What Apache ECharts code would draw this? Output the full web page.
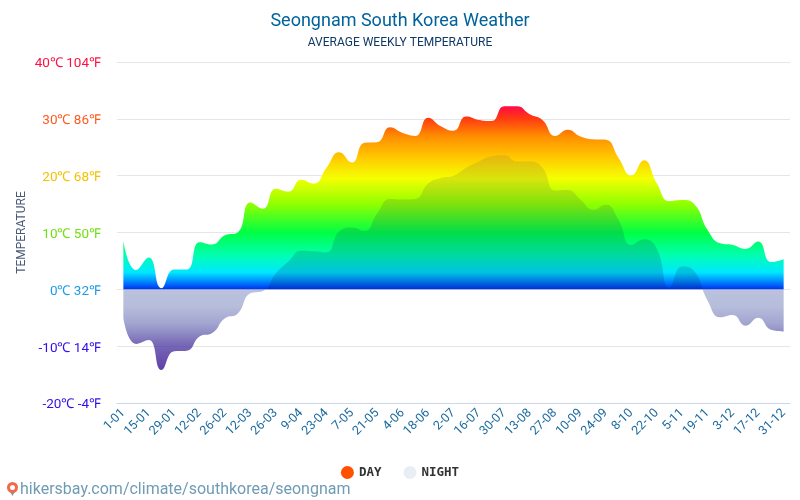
<!DOCTYPE html>
<html>
<head>
<meta charset="utf-8">
<style>html,body{margin:0;padding:0;background:#fff}#main{width:800px;height:500px}</style>
<script src="https://cdn.jsdelivr.net/npm/echarts@6/dist/echarts.min.js"></script>
</head>
<body>
<div id="main"></div>
<script>
var weeks = ['1-01','8-01','15-01','22-01','29-01','5-02','12-02','19-02','26-02','5-03','12-03','19-03','26-03','2-04','9-04','16-04','23-04','30-04','7-05','14-05','21-05','28-05','4-06','11-06','18-06','25-06','2-07','9-07','16-07','23-07','30-07','6-08','13-08','20-08','27-08','3-09','10-09','17-09','24-09','1-10','8-10','15-10','22-10','29-10','5-11','12-11','19-11','26-11','3-12','10-12','17-12','24-12','31-12'];
var day = [8.5,3.4,5.6,0.2,3.5,3.5,8.3,7.9,9.5,10,15.3,14.2,17.7,17.2,19.3,18.6,21.4,24.1,22.3,25.8,25.9,28.5,27.5,27,30.2,28.7,27.9,30.4,29.8,29.6,32.2,32.2,30.8,29.8,27,28.1,26.9,26.4,26.3,23.1,20,22.7,18.7,15.5,15.7,14.9,10.5,8.1,7.8,7.1,8.4,4.8,5.3];
var night = [-5.1,-9.6,-8.9,-14.2,-10.9,-10.8,-8.3,-7.7,-5.1,-4.3,-0.7,-0.3,2.8,4.9,6.8,6.7,6.5,10.2,10.9,10.3,13.4,15.9,15.8,15.9,18.6,19.6,20,21.4,22.5,23.4,23.6,22.5,22.5,21.4,17.4,17.5,15.8,14,14.9,12.2,7.8,8.8,7.2,0.3,4,3.1,-1.9,-4.9,-4.5,-6.4,-5,-7.1,-7.4];
var tempLabels = {'40':'40℃ 104℉','30':'30℃ 86℉','20':'20℃ 68℉','10':'10℃ 50℉','0':'0℃ 32℉','-10':'-10℃ 14℉','-20':'-20℃ -4℉'};
var tempColors = {'40':'#ff1040','30':'#ff5a20','20':'#f2c200','10':'#72e010','0':'#1e9be8','-10':'#3010e8','-20':'#3010e8'};

// 渐变：按温度值换算到区域的包围盒
function gradient(data, stops){
	var top = Math.max.apply(null, data.concat(0));
	var bottom = Math.min.apply(null, data.concat(0));
	var colorStops = [];
	for(var i=0;i<stops.length;i++){
		var off = (top-stops[i][0])/(top-bottom);
		if(off>=0 && off<=1) colorStops.push({offset:off,color:stops[i][1]});
	}
	return new echarts.graphic.LinearGradient(0,0,0,1,colorStops);
}
var dayStops = [[32.2,'#ff0a46'],[30,'#ff3c10'],[27,'#ff8c00'],[23,'#ffcc00'],[19.5,'#f4ff00'],[15,'#90ff00'],[10,'#00ff44'],[6,'#00ffb0'],[3,'#00e8ff'],[1.5,'#0090ff'],[0,'#0030f0']];
var nightStops = [[23.6,'rgba(90,90,90,0.14)'],[15,'rgba(40,70,70,0.16)'],[8,'rgba(0,60,100,0.18)'],[0,'rgba(0,30,100,0.2)'],[-0.01,'rgba(58,81,158,0.35)'],[-3,'rgba(58,75,158,0.37)'],[-6,'rgba(71,75,161,0.5)'],[-9.5,'rgba(70,50,155,0.72)'],[-14.2,'rgba(92,58,165,0.97)']];

var myChart = echarts.init(document.getElementById('main'));
var option = {
	animation:false,
	title:{
		text:'Seongnam South Korea Weather',
		subtext:'AVERAGE WEEKLY TEMPERATURE',
		left:'center',top:7,itemGap:7,
		textStyle:{fontFamily:'Roboto',fontSize:18,fontWeight:'normal',color:'#00629c'},
		subtextStyle:{fontFamily:'Roboto',fontSize:12,color:'#103a66'}
	},
	legend:{
		bottom:16,left:'center',itemGap:22,itemWidth:13,itemHeight:13,icon:'circle',
		textStyle:{fontFamily:'DejaVu Sans Mono',fontSize:12.500,fontWeight:'bold',color:'#333'},
		data:[{name:'DAY',itemStyle:{color:'#ff5000'}},{name:'NIGHT',itemStyle:{color:'#e9eef6'}}]
	},
	grid:{left:117,right:10,top:62,bottom:97},
	xAxis:{
		type:'category',data:weeks,boundaryGap:true,
		axisLine:{onZero:false,lineStyle:{color:'#ccd6eb'}},
		axisTick:{alignWithLabel:true,interval:1,length:9,lineStyle:{color:'#ccd6eb'}},
		axisLabel:{interval:1,rotate:45,margin:8,fontFamily:'Roboto',fontSize:12.500,color:'#1a6a9f'}
	},
	yAxis:{
		type:'value',min:-20,max:40,interval:10,
		name:'TEMPERATURE',nameLocation:'middle',nameGap:89,nameRotate:90,nameMoveOverlap:false,
		nameTextStyle:{fontFamily:'Roboto',fontSize:12,color:'#4a5a78'},
		axisLine:{show:false},axisTick:{show:false},
		splitLine:{lineStyle:{color:'#e6e6e6'}},
		axisLabel:{
			margin:16,fontFamily:'Roboto',fontSize:13.500,verticalAlign:'top',lineHeight:4,
			formatter:function(v){return tempLabels[v];},
			color:function(v){return tempColors[v];}
		}
	},
	series:[
		{name:'DAY',type:'line',data:day,smooth:0.5,showSymbol:false,lineStyle:{width:0},itemStyle:{color:'#ff5000'},areaStyle:{opacity:1,color:gradient(day,dayStops)}},
		{name:'NIGHT',type:'line',data:night,smooth:0.5,showSymbol:false,lineStyle:{width:0},itemStyle:{color:'#e6ecf5'},areaStyle:{opacity:1,color:gradient(night,nightStops)}}
	],
	graphic:[
		{type:'text',left:20,top:482,style:{text:'hikersbay.com/climate/southkorea/seongnam',font:'16px Roboto',fill:'#6f9bb5'}},
		{type:'polygon',left:8,top:488,shape:{points:[[0,0],[9,0],[4.500,8]]},style:{fill:'#6f9bb5'}},
		{type:'circle',left:7,top:482,shape:{r:5.500},style:{fill:'#ef6b4a'}},
		{type:'circle',left:10,top:485,shape:{r:2.500},style:{fill:'#fff'}}
	]
};
myChart.setOption(option);
</script>
</body>
</html>
